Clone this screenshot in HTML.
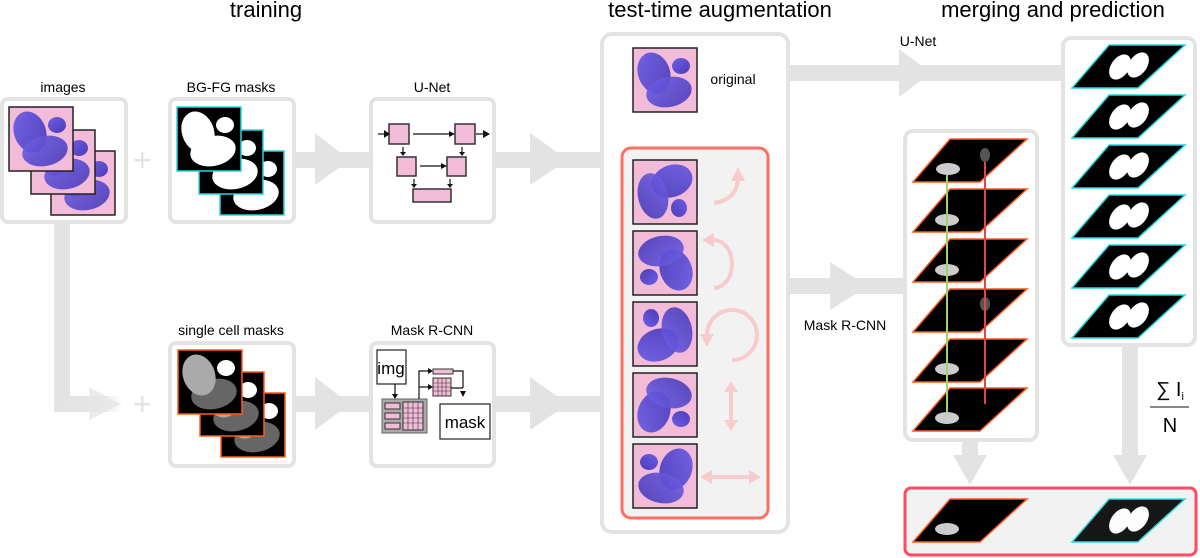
<!DOCTYPE html>
<html><head><meta charset="utf-8"><style>
html,body{margin:0;padding:0;background:#fff;}
svg{display:block;font-family:"Liberation Sans",Arial,sans-serif;}
</style></head><body>
<svg width="1200" height="558" viewBox="0 0 1200 558" xmlns="http://www.w3.org/2000/svg">
<defs>
<linearGradient id="pg" x1="0" y1="0" x2="1" y2="1"><stop offset="0" stop-color="#6d5ee6"/><stop offset="1" stop-color="#4b3cb8"/></linearGradient>
<linearGradient id="fade" x1="0" y1="0" x2="1" y2="0"><stop offset="0" stop-color="#e3e3e3"/><stop offset="0.6" stop-color="#e6e6e6"/><stop offset="1" stop-color="#ffffff"/></linearGradient>
<g id="cells">
<rect x="0" y="0" width="64" height="64" fill="#f2bcd8" stroke="#222" stroke-width="1.5"/>
<ellipse cx="21" cy="25" rx="16" ry="21" transform="rotate(-20 21 25)" fill="url(#pg)" opacity="0.95"/>
<ellipse cx="48" cy="18" rx="9" ry="8" fill="url(#pg)"/>
<ellipse cx="36" cy="44" rx="23" ry="15" transform="rotate(-12 36 44)" fill="url(#pg)" opacity="0.92"/>
</g>
<g id="mask">
<rect x="0" y="0" width="64" height="64" fill="#000" stroke="#22d8e0" stroke-width="1.5"/>
<ellipse cx="21" cy="25" rx="16" ry="21" transform="rotate(-20 21 25)" fill="#fff"/>
<ellipse cx="48" cy="18" rx="9" ry="8" fill="#fff"/>
<ellipse cx="36" cy="44" rx="23" ry="15" transform="rotate(-12 36 44)" fill="#fff"/>
</g>
<g id="gmask">
<rect x="0" y="0" width="64" height="64" fill="#000" stroke="#ff5a1f" stroke-width="1.5"/>
<ellipse cx="36" cy="44" rx="23" ry="15" transform="rotate(-12 36 44)" fill="#666"/>
<ellipse cx="21" cy="25" rx="16" ry="21" transform="rotate(-20 21 25)" fill="#aaa"/>
<ellipse cx="48" cy="18" rx="9" ry="8" fill="#fff"/>
</g>
<polygon id="po" points="37,0 114,0 67,43 0,43" fill="#000" stroke="#ff5a1f" stroke-width="1.5"/>
<g id="pu">
<polygon points="37,0 113,0 66,43 0,43" fill="#000" stroke="#22d8e0" stroke-width="1.5"/>
<ellipse cx="48" cy="22" rx="9" ry="14" transform="rotate(35 48 22)" fill="#fff"/>
<ellipse cx="66" cy="20" rx="9" ry="14" transform="rotate(35 66 20)" fill="#fff"/>
</g>
</defs>

<text x="266" y="17" font-size="22" text-anchor="middle">training</text>
<text x="720" y="17" font-size="22" text-anchor="middle">test-time augmentation</text>
<text x="1053" y="17" font-size="22" text-anchor="middle">merging and prediction</text>

<g fill="#e3e3e3">
<rect x="54" y="222" width="16" height="190"/>
<rect x="54" y="396" width="70" height="16" fill="url(#fade)"/>
<polygon points="89,387 121,404 89,420" fill="#e6e6e6" opacity="0.8"/>
<rect x="294" y="152" width="76" height="16"/>
<polygon points="315,133 350,160 315,185"/>
<rect x="494" y="152" width="107" height="16"/>
<polygon points="530,133 568,160 530,185"/>
<rect x="294" y="396" width="76" height="16"/>
<polygon points="315,377 350,404 315,430"/>
<rect x="494" y="396" width="107" height="16"/>
<polygon points="530,377 568,404 530,430"/>
<rect x="788" y="65" width="275" height="16"/>
<polygon points="899,49 931,73 899,97"/>
<rect x="788" y="278" width="116" height="16"/>
<polygon points="830,262 868,286 830,310"/>
<rect x="962" y="440" width="16" height="20"/>
<polygon points="953,455 987,455 970,485"/>
<rect x="1122" y="345" width="16" height="115"/>
<polygon points="1113,455 1147,455 1130,485"/>
<rect x="658" y="113" width="14" height="14"/>
<polygon points="656,124 674,124 665,139"/>
</g>
<g fill="#e3e3e3" font-size="32"><text x="133" y="171">+</text><text x="133" y="415">+</text></g>

<g fill="#fff" stroke="#e3e3e3" stroke-width="4">
<rect x="2" y="99" width="124" height="123" rx="6"/>
<rect x="170" y="99" width="124" height="123" rx="6"/>
<rect x="371" y="99" width="123" height="123" rx="6"/>
<rect x="170" y="343" width="124" height="123" rx="6"/>
<rect x="371" y="343" width="123" height="123" rx="6"/>
<rect x="602" y="34" width="186" height="498" rx="10"/>
<rect x="905" y="131" width="132" height="309" rx="8"/>
<rect x="1063" y="38" width="132" height="307" rx="8"/>
</g>

<g font-size="14" text-anchor="middle">
<text x="63" y="92">images</text>
<text x="231" y="92">BG-FG masks</text>
<text x="432" y="92">U-Net</text>
<text x="231" y="335">single cell masks</text>
<text x="432" y="335">Mask R-CNN</text>
<text x="733" y="84">original</text>
<text x="918" y="46">U-Net</text>
<text x="845" y="330">Mask R-CNN</text>
</g>

<use href="#cells" x="51" y="151"/><use href="#cells" x="31" y="130"/><use href="#cells" x="9" y="107"/>
<use href="#mask" x="220" y="151"/><use href="#mask" x="199" y="130"/><use href="#mask" x="177" y="107"/>
<use href="#gmask" x="221" y="393"/><use href="#gmask" x="200" y="372"/><use href="#gmask" x="178" y="350"/>

<g fill="#f2bcd8" stroke="#333" stroke-width="1.5">
<rect x="389" y="124" width="20" height="20"/><rect x="455" y="124" width="20" height="20"/>
<rect x="397" y="157" width="19" height="19"/><rect x="447" y="157" width="19" height="19"/>
<rect x="413" y="189" width="38" height="13"/>
</g>
<g stroke="#111" stroke-width="1.2" fill="none">
<line x1="378" y1="134" x2="386" y2="134"/><line x1="413" y1="134" x2="451" y2="134"/><line x1="476" y1="134" x2="485" y2="134"/>
<line x1="420" y1="166" x2="443" y2="166"/>
<line x1="403" y1="147" x2="403" y2="153"/><line x1="462" y1="147" x2="462" y2="153"/>
<line x1="414" y1="179" x2="414" y2="185"/><line x1="450" y1="179" x2="450" y2="185"/>
</g>
<g fill="#111">
<polygon points="384,130 390,134 384,138"/><polygon points="449,131 455,134 449,137"/><polygon points="483,130 490,134 483,138"/>
<polygon points="441,163 447,166 441,169"/>
<polygon points="400,152 406,152 403,156"/><polygon points="459,152 465,152 462,156"/>
<polygon points="411,184 417,184 414,188"/><polygon points="447,184 453,184 450,188"/>
</g>

<rect x="377" y="350" width="29" height="34" fill="#fff" stroke="#222" stroke-width="1.2"/>
<text x="391" y="374" font-size="17" text-anchor="middle">img</text>
<rect x="382" y="399" width="45" height="34" fill="#aaa" stroke="#666"/>
<g fill="#f2bcd8" stroke="#333" stroke-width="1"><rect x="385" y="403" width="15" height="6"/><rect x="385" y="413" width="15" height="6"/><rect x="385" y="423" width="15" height="6"/><rect x="403" y="402" width="20" height="28"/>
<rect x="433" y="369" width="20" height="5"/><rect x="433" y="378" width="18" height="18"/></g>
<g stroke="#333" stroke-width="0.6"><path d="M403 408h20M403 413h20M403 418h20M403 423h20M408 402v28M413 402v28M418 402v28M433 383h18M433 387h18M433 391h18M438 378v18M442 378v18M446 378v18"/></g>
<rect x="440" y="404" width="50" height="35" fill="#fff" stroke="#222" stroke-width="1.2"/>
<text x="465" y="428" font-size="17" text-anchor="middle">mask</text>
<g stroke="#111" stroke-width="1.2" fill="none"><path d="M395 384v12M419 399v-28h10M419 387h10M453 371h10v17M451 388h12"/></g>
<g fill="#111"><polygon points="392,394 398,394 395,399"/><polygon points="428,368 433,371 428,374"/><polygon points="428,384 433,387 428,390"/><polygon points="460,391 466,391 463,397"/></g>

<use href="#cells" x="633" y="48"/>
<rect x="622" y="148" width="146" height="370" rx="9" fill="#f2f2f2" stroke="#ff6f63" stroke-width="3"/>
<use href="#cells" transform="translate(633 160) rotate(90 32 32)"/>
<use href="#cells" transform="translate(633 231) rotate(180 32 32)"/>
<use href="#cells" transform="translate(633 302) rotate(270 32 32)"/>
<use href="#cells" transform="translate(633 373) translate(0 64) scale(1 -1)"/>
<use href="#cells" transform="translate(633 444) translate(64 0) scale(-1 1)"/>
<g stroke="#f8cccc" stroke-width="4" fill="none">
<path d="M714 203 Q736 200 738 180"/>
<path d="M714 288 A18 24 0 0 0 714 240"/>
<path d="M732 360 A25 25 0 1 0 707 334"/>
<line x1="731" y1="389" x2="731" y2="425"/>
<line x1="710" y1="477" x2="751" y2="477"/>
</g>
<g fill="#f8cccc">
<polygon points="731,181 738,167 745,181"/>
<polygon points="714,233 702,240 714,247"/>
<polygon points="700,334 714,334 707,347"/>
<polygon points="724,392 731,381 738,392"/><polygon points="724,420 731,431 738,420"/>
<polygon points="712,470 700,477 712,484"/><polygon points="749,470 761,477 749,484"/>
</g>

<use href="#po" x="913" y="139"/><use href="#po" x="913" y="189"/><use href="#po" x="913" y="239"/><use href="#po" x="913" y="289"/><use href="#po" x="913" y="339"/><use href="#po" x="913" y="388"/>
<g fill="#ccc"><ellipse cx="948" cy="169" rx="12" ry="6"/><ellipse cx="947" cy="220" rx="12" ry="6"/><ellipse cx="947" cy="270" rx="12" ry="6"/><ellipse cx="947" cy="369" rx="12" ry="6"/><ellipse cx="947" cy="418" rx="12" ry="6"/></g>
<g fill="#555"><ellipse cx="985" cy="155" rx="5" ry="7"/><ellipse cx="985" cy="304" rx="5" ry="7"/></g>
<line x1="947" y1="175" x2="947" y2="412" stroke="#9bd46a" stroke-width="2"/>
<line x1="985" y1="162" x2="985" y2="404" stroke="#e04646" stroke-width="2"/>

<use href="#pu" x="1072" y="45"/><use href="#pu" x="1072" y="95"/><use href="#pu" x="1072" y="145"/><use href="#pu" x="1072" y="195"/><use href="#pu" x="1072" y="245"/><use href="#pu" x="1072" y="295"/>

<text x="1170" y="396" font-size="20" text-anchor="middle">∑ I<tspan font-size="11" dy="4">i</tspan></text>
<line x1="1150" y1="407" x2="1189" y2="407" stroke="#111" stroke-width="1"/>
<text x="1170" y="432" font-size="20" text-anchor="middle">N</text>

<rect x="905" y="488" width="291" height="67" rx="6" fill="#f2f2f2" stroke="#ff4a63" stroke-width="3"/>
<use href="#po" x="913" y="499"/>
<ellipse cx="947" cy="529" rx="12" ry="6" fill="#ccc"/>
<use href="#pu" x="1072" y="499" opacity="0.9"/>
</svg>
</body></html>
